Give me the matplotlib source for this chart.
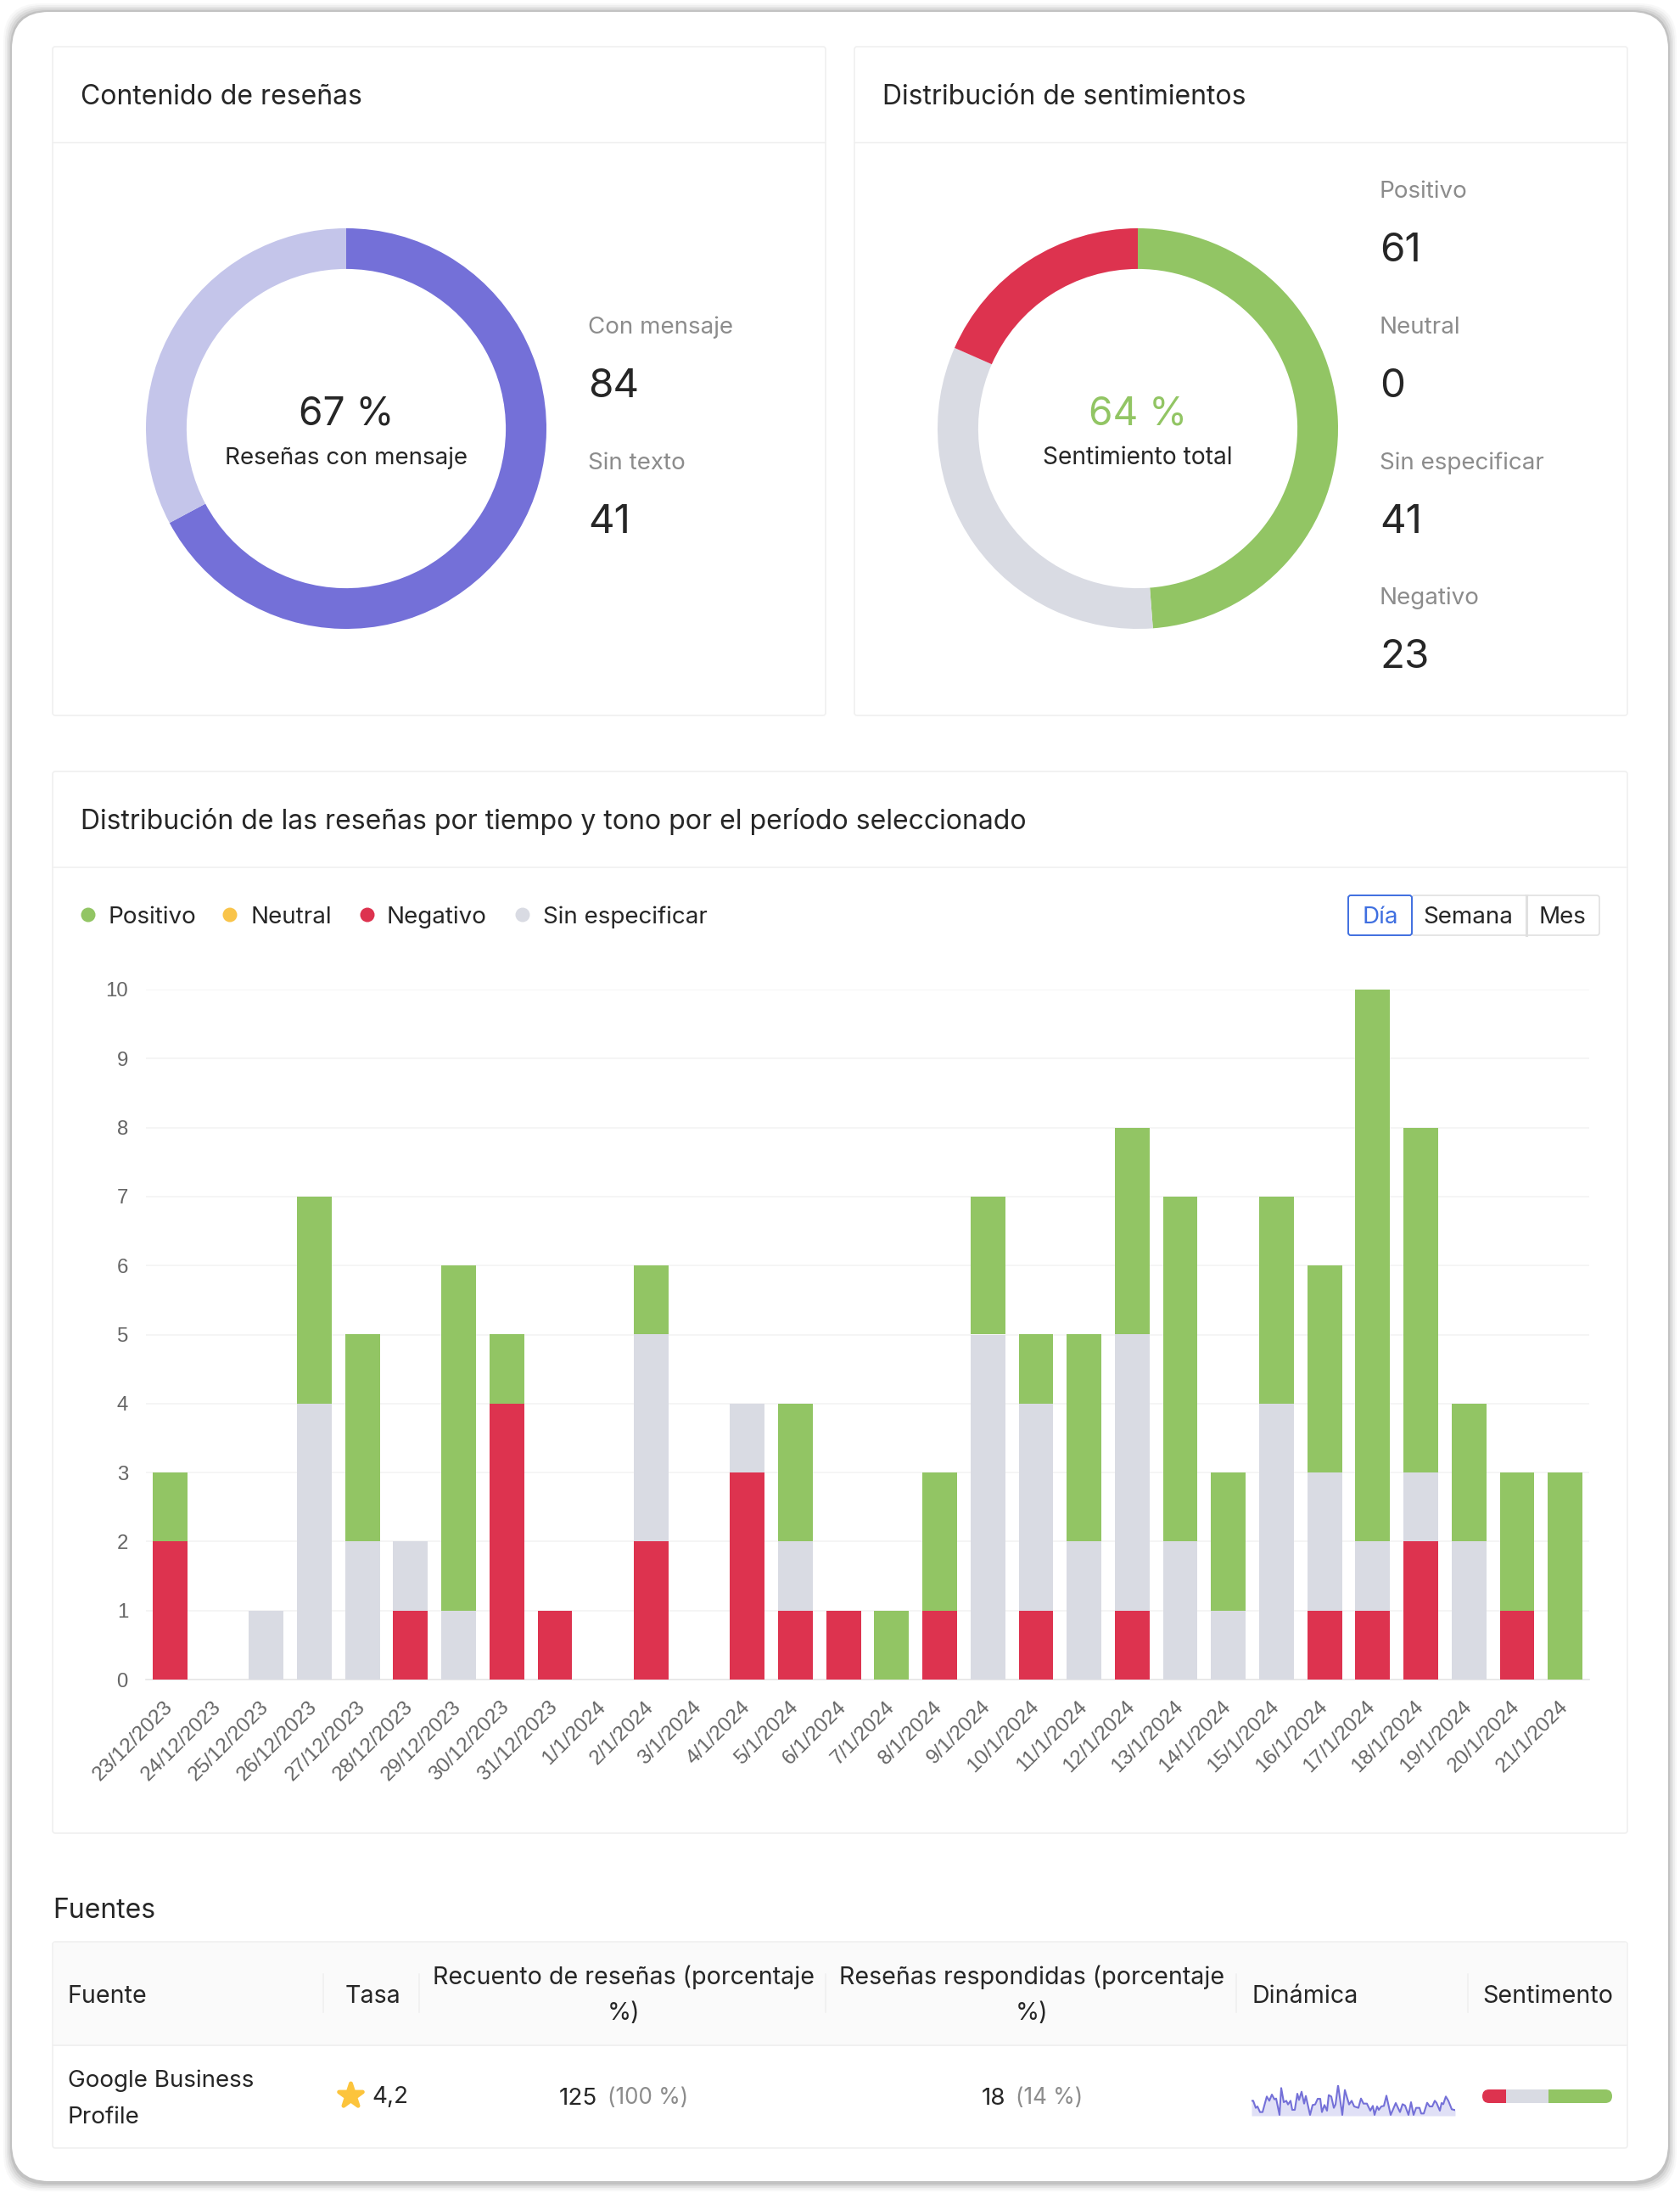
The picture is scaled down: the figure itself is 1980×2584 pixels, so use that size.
import matplotlib
matplotlib.use("Agg")
import matplotlib.pyplot as plt
from matplotlib.patches import Ellipse, FancyBboxPatch, Rectangle
from matplotlib.transforms import ScaledTranslation

W, H = 1980, 2584
DPI = 100

PURPLE = "#7470d8"
PURPLE_LIGHT = "#c4c5ea"
GREEN = "#92c564"
RED = "#dd334f"
GRAY = "#d9dbe3"
YELLOW = "#f9c44a"
DARK = "#262626"
MUTED = "#8c8c8c"
BORDER = "#f0f0f0"
BLUE = "#3f6fe0"

BODY = 27.8
HEAD = 28.6
TITLE = 32
BIG = 47.5

plt.rcParams["font.family"] = ["Inter", "DejaVu Sans"]

# content donut
content_values = [84, 41]
content_labels = ["Con mensaje", "Sin texto"]

# sentiment donut
sentiment_values = [61, 0, 41, 23]
sentiment_labels = ["Positivo", "Neutral", "Sin especificar", "Negativo"]

# reviews per day
days = ["23/12/2023", "24/12/2023", "25/12/2023", "26/12/2023", "27/12/2023",
        "28/12/2023", "29/12/2023", "30/12/2023", "31/12/2023", "1/1/2024",
        "2/1/2024", "3/1/2024", "4/1/2024", "5/1/2024", "6/1/2024", "7/1/2024",
        "8/1/2024", "9/1/2024", "10/1/2024", "11/1/2024", "12/1/2024", "13/1/2024",
        "14/1/2024", "15/1/2024", "16/1/2024", "17/1/2024", "18/1/2024",
        "19/1/2024", "20/1/2024", "21/1/2024"]
negative = [2, 0, 0, 0, 0, 1, 0, 4, 1, 0, 2, 0, 3, 1, 1, 0, 1, 0, 1, 0, 1, 0, 0, 0, 1, 1, 2, 0, 1, 0]
unspecified = [0, 0, 1, 4, 2, 1, 1, 0, 0, 0, 3, 0, 1, 1, 0, 0, 0, 5, 3, 2, 4, 2, 1, 4, 2, 1, 1, 2, 0, 0]
positive = [1, 0, 0, 3, 3, 0, 5, 1, 0, 0, 1, 0, 0, 2, 0, 1, 2, 2, 1, 3, 3, 5, 2, 3, 3, 8, 5, 2, 2, 3]

# sparkline in the table
spark_days = [0, 2, 5, 7, 10, 13, 18, 21, 24, 27, 29, 33, 35, 38, 41, 43, 46, 48, 51, 54,
              56, 59, 62, 64, 69, 72, 75, 78, 81, 83, 86, 89, 91, 94, 97, 99, 102, 107, 110,
              115, 118, 121, 126, 129, 132, 136, 140, 143, 145, 148, 150, 153, 156, 159,
              164, 170, 175, 178, 181, 185, 188, 191, 194, 198, 200, 203, 207, 210, 213,
              216, 218, 222, 224, 226, 229, 232, 236, 240]
spark_values = [5.3, 5.3, 2.8, 3.3, 1.3, 1.3, 6.8, 5.3, 7.5, 5.8, 6.1, 0.3, 9.8, 4.8, 5.3, 4.0,
                5.3, 2.1, 2.1, 7.8, 5.6, 8.5, 4.3, 7.0, 0.3, 3.8, 4.0, 6.0, 6.0, 1.3, 3.8, 1.8,
                7.3, 6.8, 2.8, 4.0, 10.8, 0.3, 9.1, 4.0, 5.3, 3.3, 2.8, 6.1, 4.3, 4.3, 1.8, 3.5,
                0.3, 3.3, 2.1, 3.3, 3.5, 7.1, 0.3, 4.5, 1.3, 4.1, 3.6, 0.3, 4.8, 0.3, 2.8, 2.8,
                0.8, 0.8, 4.6, 3.3, 3.3, 5.3, 4.6, 1.8, 4.5, 4.1, 6.8, 5.3, 2.3, 2.0]
pill_values = [23, 41, 61]


def px(size):
    return size * 72 / DPI


def axes_px(x0, y0, x1, y1, **kw):
    return fig.add_axes([x0 / W, 1 - y1 / H, (x1 - x0) / W, (y1 - y0) / H], **kw)


def label(x, y, s, size=BODY, color=DARK, ha="left", **kw):
    # y is the visual middle of the text, baseline placed from it
    bg.text(x, y + 0.36 * size, s, fontsize=px(size), color=color, ha=ha, va="baseline", **kw)


def round_box(x0, y0, x1, y1, r, **kw):
    box = FancyBboxPatch((x0 + r, y0 + r), x1 - x0 - 2 * r, y1 - y0 - 2 * r,
                         boxstyle=f"round,pad={r},rounding_size={r}", **kw)
    bg.add_patch(box)
    return box


def card(x0, y0, x1, y1, header=None):
    round_box(x0, y0, x1, y1, 3, fc="white", ec=BORDER, lw=1.2)
    if header:
        bg.plot([x0, x1], [header, header], color=BORDER, lw=1.2)


def donut(cx, cy, values, colors):
    ax = axes_px(cx - 236, cy - 236, cx + 236, cy + 236)
    ax.pie(values, colors=colors, startangle=90, counterclock=False, radius=1,
           wedgeprops={"width": 0.203, "linewidth": 0})
    ax.set_xlim(-1, 1)
    ax.set_ylim(-1, 1)
    ax.patch.set_alpha(0)


fig = plt.figure(figsize=(W / DPI, H / DPI), dpi=DPI, facecolor="white")
bg = fig.add_axes([0, 0, 1, 1])
bg.set_xlim(0, W)
bg.set_ylim(H, 0)
bg.axis("off")

# outer panel with soft shadow
for grow, a in [(10, 0.05), (8, 0.07), (6, 0.10), (4, 0.14), (2, 0.22)]:
    round_box(14 - grow, 14 - grow, 1966 + grow, 2570 + grow + 2, 44, fc="#808080", ec="none", alpha=a)
round_box(14, 14, 1966, 2570, 44, fc="white", ec="none")

# top cards
card(62, 55, 973, 843, header=168)
card(1007, 55, 1918, 843, header=168)
label(95, 111, "Contenido de reseñas", TITLE)
label(1040, 111, "Distribución de sentimientos", TITLE)

donut(408, 505, content_values, [PURPLE, PURPLE_LIGHT])
label(408, 484, f"{round(100 * content_values[0] / sum(content_values))} %", 46, ha="center")
label(408, 537, "Reseñas con mensaje", BODY, ha="center")
for name, val, y in zip(content_labels, content_values, [383, 543]):
    label(693, y, name, BODY, MUTED)
    label(693, y + 68, str(val), BIG)

donut(1341, 505, sentiment_values, [GREEN, YELLOW, GRAY, RED])
label(1341, 484, "64 %", 46, GREEN, ha="center")
label(1341, 537, "Sentimiento total", 28.2, ha="center")
for name, val, y in zip(sentiment_labels, sentiment_values, [223, 383, 543, 702]):
    label(1626, y, name, BODY, MUTED)
    label(1626, y + 68, str(val), BIG)

# time distribution card
card(62, 909, 1918, 2160, header=1022)
label(95, 965, "Distribución de las reseñas por tiempo y tono por el período seleccionado", TITLE)

legend_items = [("Positivo", GREEN, 104, 128), ("Neutral", YELLOW, 271, 296),
                ("Negativo", RED, 433, 456), ("Sin especificar", GRAY, 616, 640)]
for name, col, dot_x, txt_x in legend_items:
    bg.add_patch(Ellipse((dot_x, 1078), 17, 17, fc=col, ec="none"))
    label(txt_x, 1078, name)

# period buttons
round_box(1664, 1055, 1885, 1102, 3, fc="white", ec="#e0e0e0", lw=1.2)
bg.plot([1799, 1799], [1055, 1102], color="#e0e0e0", lw=2.2)
round_box(1589, 1055, 1664, 1102, 3, fc="white", ec=BLUE, lw=1.4)
label(1626.5, 1078, "Día", BODY, BLUE, ha="center")
label(1730, 1078, "Semana", BODY, ha="center")
label(1841, 1078, "Mes", BODY, ha="center")

ax = axes_px(172, 1166, 1873, 1979)
x = list(range(len(days)))
bottom2 = [a + b for a, b in zip(negative, unspecified)]
ax.bar(x, negative, width=0.72, color=RED, zorder=3)
ax.bar(x, unspecified, width=0.72, bottom=negative, color=GRAY, zorder=3)
ax.bar(x, positive, width=0.72, bottom=bottom2, color=GREEN, zorder=3)
ax.set_xlim(-0.5, len(days) - 0.5)
ax.set_ylim(0, 10)
ax.set_yticks(range(11))
ax.grid(axis="y", color="#f3f3f3", lw=1.2, zorder=0)
for s in ["top", "left", "right"]:
    ax.spines[s].set_visible(False)
ax.spines["bottom"].set_color("#e6e6e6")
ax.spines["bottom"].set_linewidth(1.2)
ax.tick_params(axis="y", length=0, pad=px(21), labelsize=px(24), labelcolor="#666666")
ax.tick_params(axis="x", length=0, pad=px(21))
ax.set_xticks(x)
ax.set_xticklabels(days, rotation=45, ha="right", va="top", rotation_mode="anchor",
                   fontsize=px(24.5), color="#666666", family="Liberation Sans")
# date labels end a little left of the bar centre
shift = ScaledTranslation(-8 / DPI, 0, fig.dpi_scale_trans)
for t in ax.get_xticklabels():
    t.set_transform(t.get_transform() + shift)
for t in ax.get_yticklabels():
    t.set_family("Liberation Sans")
ax.patch.set_alpha(0)

# sources table
label(62, 2248, "Fuentes", TITLE)
round_box(62, 2288, 1918, 2531, 3, fc="white", ec=BORDER, lw=1.2)
bg.add_patch(Rectangle((63, 2289), 1854, 121, fc="#fafafa", ec="none"))
bg.plot([62, 1918], [2410, 2410], color=BORDER, lw=1.4)
for sep in [381, 494, 973, 1457, 1730]:
    bg.plot([sep, sep], [2326, 2371], color="#f0f0f0", lw=1.2)

label(80, 2350, "Fuente", HEAD)
label(439, 2350, "Tasa", HEAD, ha="center")
label(735, 2328, "Recuento de reseñas (porcentaje", HEAD, ha="center")
label(735, 2370, "%)", HEAD, ha="center")
label(1216, 2328, "Reseñas respondidas (porcentaje", HEAD, ha="center")
label(1216, 2370, "%)", HEAD, ha="center")
label(1475, 2350, "Dinámica", HEAD)
label(1747, 2350, "Sentimento", HEAD)

label(80, 2449, "Google Business")
label(80, 2492, "Profile")
bg.scatter([413], [2469], marker="*", s=440, c="#fcc43c", edgecolors="#fcc43c", linewidths=3.5, zorder=3)
label(438, 2468, "4,2")
label(659, 2470, "125")
label(716, 2470, "(100 %)", 26, MUTED)
label(1157, 2470, "18")
label(1197, 2470, "(14 %)", 26, MUTED)

spark = axes_px(1475, 2457, 1715, 2493)
spark.fill_between(spark_days, spark_values, 0, color="#e0e0f6", lw=0)
spark.plot(spark_days, spark_values, color=PURPLE, lw=1.5, solid_joinstyle="round")
spark.set_xlim(0, 240)
spark.set_ylim(0, 10.8)
spark.axis("off")

pill = axes_px(1747, 2462, 1900, 2478)
pill_clip = round_box(1747, 2462, 1900, 2478, 8, fc="none", ec="none")
left = 0
for val, col in zip(pill_values, [RED, GRAY, GREEN]):
    b = pill.barh(0, val, left=left, height=1, color=col, lw=0)
    b[0].set_clip_path(pill_clip)
    left += val
pill.set_xlim(0, sum(pill_values))
pill.set_ylim(-0.5, 0.5)
pill.axis("off")

fig.savefig("out.png", dpi=DPI)
